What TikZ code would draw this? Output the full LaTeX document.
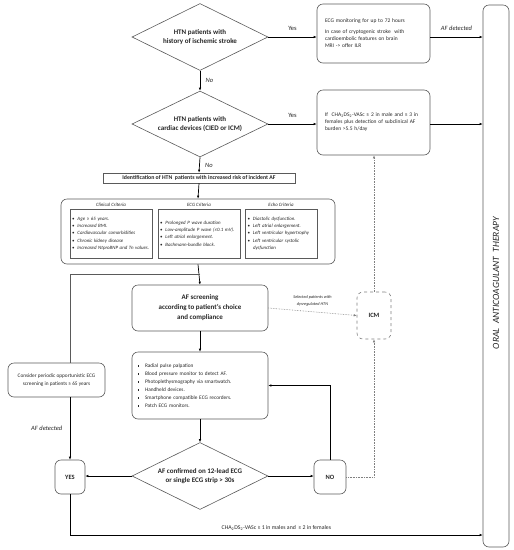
\documentclass[tikz,border=0pt]{standalone}
\usepackage{fontspec}
\setmainfont{Carlito}
\usetikzlibrary{shapes.geometric,arrows.meta}
\definecolor{ln}{HTML}{5A5A5A}
\definecolor{txt}{HTML}{262626}
\newcommand{\fs}[2]{\fontsize{#1}{#2}\selectfont}
\newcommand{\bl}{\makebox[5.5pt][l]{\textbullet}}
\newcommand{\sq}{\makebox[7pt][l]{\rule[0.6pt]{1.4pt}{1.4pt}}}
\begin{document}
\begin{tikzpicture}[x=1pt,y=-1pt,
  every node/.style={text=txt,font=\fs{5.5}{7}},
  box/.style={draw=ln,line width=0.6pt,rounded corners=6pt,inner sep=0pt},
  sbox/.style={draw=ln,line width=0.6pt,inner sep=0pt},
  dia/.style={draw=ln,line width=0.6pt,diamond,aspect=2.03,inner sep=0pt,minimum width=136pt,minimum height=67pt,align=center,font=\bfseries\fs{7}{9.5}},
  arr/.style={draw=black,line width=0.7pt,-{Latex[length=3pt,width=2.5pt]}},
  gline/.style={draw=ln,line width=0.6pt},
  dotarr/.style={draw=gray,line width=0.6pt,densely dotted,-{Latex[length=3pt,width=2.5pt]}},
  lab/.style={font=\itshape\fs{6.5}{8}},
  yeslab/.style={font=\fs{6.5}{8}},
  crit/.style={sbox,minimum height=49pt,align=left,font=\itshape\fs{4.9}{7.3}}
]
\useasboundingbox (0,0) rectangle (514,550);

% diamonds
\node[dia] (d1) at (200,37) {HTN patients with\\history of ischemic stroke};
\node[dia,minimum height=66pt] (d2) at (200,124) {HTN patients with\\cardiac devices (CIED or ICM)};
\node[dia] (d3) at (200,476) {AF confirmed on 12-lead ECG\\or single ECG strip \textgreater{} 30s};

% right boxes
\node[box,minimum width=113pt,minimum height=59pt,text width=97pt,align=left] (b1) at (373.5,33.5)
  {ECG monitoring for up to 72 hours\\[4pt]In case of cryptogenic stroke~ with\\cardioembolic features on brain\\MRI -\textgreater{} offer ILR};
\node[box,minimum width=113pt,minimum height=65pt,text width=97pt,align=left] (b2) at (373.5,122.5)
  {If~ CHA\textsubscript{2}DS\textsubscript{2}-VASc ≥ 2 in male and ≥ 3 in\\females plus detection of subclinical AF\\burden \textgreater5.5 h/day};
\node[box,minimum width=26pt,minimum height=542pt] (oat) at (496,276)
  {\rotatebox{90}{\itshape\fs{9.5}{11}ORAL~ ANTICOAGULANT~ THERAPY\hspace*{14pt}}};

% identification
\node[sbox,minimum width=192pt,minimum height=10pt,font=\bfseries\fs{5.8}{7}] (id) at (199,178)
  {Identification of HTN~ patients with increased risk of incident AF};

% criteria
\node[box,minimum width=274pt,minimum height=65pt] (cr) at (198,231.5) {};
\node[font=\itshape\fs{4.9}{6}] (t1) at (111,205) {Clinical Criteria};
\node[font=\itshape\fs{4.9}{6}] (t2) at (199,205) {ECG Criteria};
\node[font=\itshape\fs{4.9}{6}] (t3) at (281,205) {Echo Criteria};
\node[crit,minimum width=82pt,text width=78pt] (c1) at (111,233.5)
  {\bl Age ≥ 65 years.\\\bl Increased BMI.\\\bl Cardiovascular comorbidities\\\bl Chronic kidney disease\\\bl Increased NtproBNP and Tn values.};
\node[crit,minimum width=82pt,text width=78pt] (c2) at (199,233.5)
  {\bl Prolonged P wave duration\\\bl Low-amplitude P wave (≤0.1 mV).\\\bl Left atrial enlargement.\\\bl Bachmann-bundle block.};
\node[crit,minimum width=72pt,text width=67pt] (c3) at (281,233.5)
  {\bl Diastolic dysfunction.\\\bl Left atrial enlargement.\\\bl Left ventricular hypertrophy\\\bl Left ventricular systolic\\\hspace*{5.5pt}dysfunction};

% screening
\node[box,minimum width=136pt,minimum height=46pt,align=center,font=\bfseries\fs{7}{10}] (afs) at (200,308)
  {AF screening\\according to patient’s choice\\and compliance};
\node[box,dashed,draw=gray,minimum width=34pt,minimum height=47pt,font=\bfseries\fs{6.5}{8}] (icm) at (374,315.5) {ICM};
\node[box,minimum width=136pt,minimum height=67pt,text width=124pt,align=left,font=\fs{5.3}{8}] (lst) at (200,385.5)
  {\sq Radial pulse palpation\\\sq Blood pressure monitor to detect AF.\\\sq Photoplethysmography via smartwatch.\\\sq Handheld devices.\\\sq Smartphone compatible ECG recorders.\\\sq Patch ECG monitors.};
\node[box,minimum width=97pt,minimum height=34pt,align=center,font=\fs{5.3}{8}] (cons) at (56.5,380)
  {Consider periodic opportunistic ECG\\screening in patients ≥ 65 years};
\node[box,minimum width=30pt,minimum height=34pt,font=\bfseries\fs{6.5}{8}] (yes) at (70,477) {YES};
\node[box,minimum width=32pt,minimum height=34pt,font=\bfseries\fs{6.5}{8}] (no) at (330,477) {NO};

% connectors
\draw[arr] (d1.east) -- (d1.east -| b1.west) node[midway,above=3pt,yeslab] (ly1) {Yes};
\draw[arr] (d2.east) -- (d2.east -| b2.west) node[midway,above=3pt,yeslab] (ly2) {Yes};
\draw[arr] (d1.east -| b1.east) -- (d1.east -| oat.west) node[midway,above=3pt,lab] (laf1) {AF detected};
\draw[arr] (d2.east -| b2.east) -- (d2.east -| oat.west);
\draw[arr] (d1.south) -- (d2.north) node[midway,right=2pt,lab] (ln1) {No};
\draw[arr] (d2.south) -- (id.north) node[midway,right=2pt,lab] (ln2) {No};
\draw[arr] (id.south) -- (cr.north);
\draw[arr] (cr.south) -- (afs.north);
\coordinate (br) at (200,274);
\coordinate (brL) at (70,274);
\draw[gline] (br) -- (brL) -- (brL |- cons.north);
\draw[arr] (brL |- cons.south) -- (yes.north) node[pos=0.5,left=4pt,lab] (laf2) {AF detected};
\draw[dotarr] (afs.east) -- (icm.west) node[midway,above=2pt,align=center,font=\itshape\fs{4.3}{6.5}] (lsel) {Selected patients with\\dysregulated HTN};
\draw[dotarr] (icm.north) -- (icm.north |- b2.south);
\draw[dotarr] (no.east) -| (icm.south);
\draw[arr] (afs.south) -- (lst.north);
\draw[arr] (lst.south) -- (d3.north);
\draw[arr] (d3.west) -- (d3.west -| yes.east);
\draw[arr] (d3.east) -- (d3.east -| no.west);
\draw[arr] (no.north) |- (lst.east);
\draw[arr] (yes.south) |- (oat.west |- 0,535) node[pos=0.75,above=1pt,font=\fs{5.8}{7}] (lcha) {CHA\textsubscript{2}DS\textsubscript{2}-VASc ≥ 1 in males and~ ≥ 2 in females};
\end{tikzpicture}
\end{document}
